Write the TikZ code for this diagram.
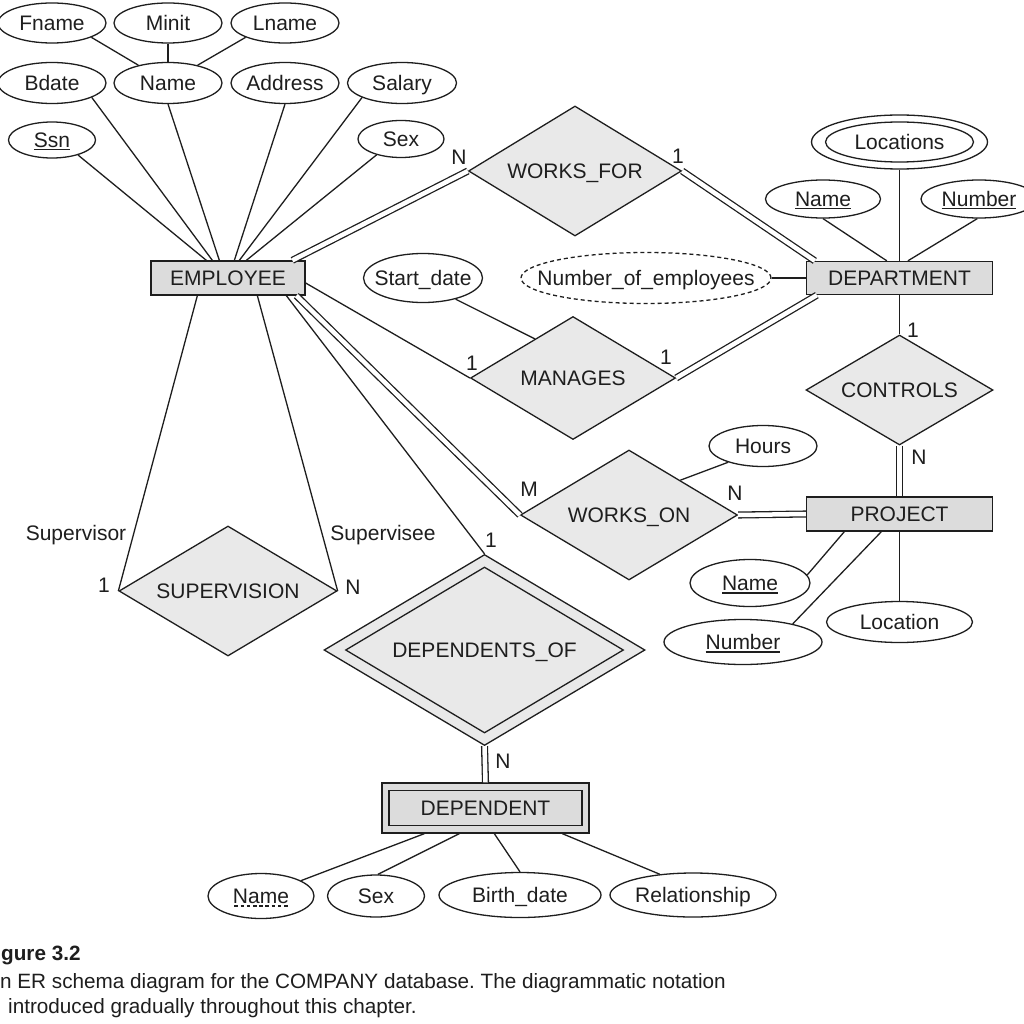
\documentclass[tikz,border=0pt]{standalone}
\usepackage{fontspec}
\setmainfont{Liberation Sans}
\frenchspacing
\usetikzlibrary{shapes.geometric,calc}
\newcommand\myul[1]{\setbox0\hbox{#1}\rlap{\rule[-3pt]{\wd0}{1.1pt}}\box0}
\newcommand\mydul[1]{\setbox0\hbox{#1}\rlap{\hbox to\wd0{\xleaders\hbox to 6pt{\hss\rule[-3pt]{3.5pt}{1.1pt}\hss}\hfil}}\box0}
\definecolor{entfill}{HTML}{DCDCDC}
\definecolor{relfill}{HTML}{E9E9E9}
\definecolor{ink}{HTML}{1E1E1E}
\tikzset{
  lbl/.style={text=ink, font=\fontsize{21}{25}\selectfont, text height=15pt, text depth=0pt},
  base/.style={lbl, draw=ink, line width=1.3pt, inner xsep=-60pt, inner ysep=-15pt},
  entity/.style={base, rectangle, fill=entfill, inner sep=0pt},
  attr/.style={base, ellipse, fill=white},
  rel/.style={base, diamond, fill=relfill, aspect=1.6},
  conn/.style={draw=ink, line width=1.3pt},
  dconn/.style={draw=ink, line width=1.3pt, double=white, double distance=4.5pt},
  card/.style={lbl, inner sep=0pt},
  capt/.style={text=ink, font=\fontsize{20.7}{24}\selectfont, inner sep=0pt, anchor=base west},
}
\begin{document}
\begin{tikzpicture}[x=1pt,y=-1pt]
\useasboundingbox (0,0) rectangle (1024,1024);
\fill[white] (0,0) rectangle (1024,1024);

% ---- entities
\node[entity, minimum width=154pt, minimum height=34pt] (emp) at (228,278) {EMPLOYEE};
\node[entity, minimum width=186pt, minimum height=33pt] (dept) at (899.5,278) {DEPARTMENT};
\node[entity, minimum width=186pt, minimum height=34pt] (proj) at (899.5,514) {PROJECT};
\node[entity, minimum width=207pt, minimum height=50pt] (depo) at (485.5,808) {};
\node[entity, minimum width=193pt, minimum height=35pt] (dep) at (485.5,808) {DEPENDENT};

% ---- relationships
\node[rel, minimum width=213pt, minimum height=130pt] (wf) at (575,171) {WORKS\_FOR};
\node[rel, minimum width=205pt, minimum height=123pt] (man) at (573,378) {MANAGES};
\node[rel, minimum width=187pt, minimum height=110pt] (ctl) at (899.5,390) {CONTROLS};
\node[rel, minimum width=217pt, minimum height=130pt] (won) at (629,515) {WORKS\_ON};
\node[rel, minimum width=218pt, minimum height=130pt] (sup) at (228,591) {SUPERVISION};
\node[rel, minimum width=321pt, minimum height=191pt] (dofo) at (484.5,650) {};
\node[rel, minimum width=278pt, minimum height=166pt] (dof) at (484.5,650) {DEPENDENTS\_OF};

% ---- attributes of EMPLOYEE
\node[attr, minimum width=108pt, minimum height=40pt] (fname) at (52,23) {Fname};
\node[attr, minimum width=108pt, minimum height=40pt] (minit) at (168,23) {Minit};
\node[attr, minimum width=108pt, minimum height=40pt] (lname) at (285,23) {Lname};
\node[attr, minimum width=108pt, minimum height=41pt] (bdate) at (52,83) {Bdate};
\node[attr, minimum width=108pt, minimum height=41pt] (ename) at (168,83) {Name};
\node[attr, minimum width=108pt, minimum height=41pt] (addr) at (285,83) {Address};
\node[attr, minimum width=109pt, minimum height=41pt] (salary) at (402,83) {Salary};
\node[attr, minimum width=87pt, minimum height=36pt] (ssn) at (52,140) {\myul{Ssn}};
\node[attr, minimum width=86pt, minimum height=37pt] (sex) at (401,139) {Sex};

% ---- other attributes
\node[attr, minimum width=119pt, minimum height=49pt] (sdate) at (423,278) {Start\_date};
\node[attr, dash pattern=on 4pt off 3pt, minimum width=250pt, minimum height=51pt] (noe) at (646,278) {Number\_of\_employees};
\node[attr, minimum width=176pt, minimum height=54pt] (loco) at (899.5,142) {};
\node[attr, minimum width=148pt, minimum height=40pt] (loc) at (899.5,142) {Locations};
\node[attr, minimum width=115pt, minimum height=38pt] (dname) at (823,199) {\myul{Name}};
\node[attr, minimum width=116pt, minimum height=38pt] (dnum) at (979,199) {\myul{Number}};
\node[attr, minimum width=108pt, minimum height=41pt] (hours) at (763,446) {Hours};
\node[attr, minimum width=120pt, minimum height=47pt] (pname) at (750,583) {\myul{Name}};
\node[attr, minimum width=158pt, minimum height=45pt] (pnum) at (743,642) {\myul{Number}};
\node[attr, minimum width=146pt, minimum height=41pt] (ploc) at (899.5,622) {Location};
\node[attr, minimum width=106pt, minimum height=45pt] (depname) at (261,896) {\mydul{Name}};
\node[attr, minimum width=97pt, minimum height=42pt] (depsex) at (376,896) {Sex};
\node[attr, minimum width=162pt, minimum height=45pt] (bdate2) at (520,895) {Birth\_date};
\node[attr, minimum width=166pt, minimum height=44pt] (relat) at (693,895) {Relationship};

% ---- connectors: composite name
\draw[conn] (fname.-20) -- (ename.149);
\draw[conn] (minit.south) -- (ename.north);
\draw[conn] (lname.200) -- (ename.31);

% ---- connectors: EMPLOYEE attributes
\draw[conn] (ssn.-30) -- ([xshift=56pt]emp.north west);
\draw[conn] (bdate.-20) -- ([xshift=62pt]emp.north west);
\draw[conn] (ename.south) -- ([xshift=69pt]emp.north west);
\draw[conn] (addr.south) -- ([xshift=84pt]emp.north west);
\draw[conn] (salary.200) -- ([xshift=89pt]emp.north west);
\draw[conn] (sex.213) -- ([xshift=96pt]emp.north west);

% ---- relationships
\draw[dconn] ([xshift=142pt]emp.north west) -- (wf.west);
\draw[dconn] (wf.east) -- ([xshift=9pt]dept.north west);
\draw[dconn] ([xshift=11pt]dept.south west) -- (man.east);
\draw[conn] ([yshift=-5pt]emp.east) -- (man.west);
\draw[conn] (sdate.-33) -- ($(man.north)!0.37!(man.west)$);
\draw[conn] (noe) -- (dept);
\draw[conn] (loco) -- (dept);
\draw[conn] (dname.south) -- ([xshift=81pt]dept.north west);
\draw[conn] (dnum.-95) -- ([xshift=102pt]dept.north west);
\draw[conn] (dept) -- (ctl);
\draw[dconn] (ctl.south) -- (proj.north);
\draw[dconn] (won.east) -- (proj.west);
\draw[conn] (hours.205) -- ($(won.north)!0.47!(won.east)$);
\draw[dconn] ([xshift=146pt]emp.south west) -- (won.west);
\draw[conn] ([xshift=136pt]emp.south west) -- (dofo.north);
\draw[conn] ([xshift=47pt]emp.south west) -- (sup.west);
\draw[conn] ([xshift=107pt]emp.south west) -- (sup.east);
\draw[dconn] (dofo.south) -- (depo.north);
\draw[conn] (pname.8) -- ([xshift=38.5pt]proj.south west);
\draw[conn] (pnum.20) -- ([xshift=75.5pt]proj.south west);
\draw[conn] (proj) -- (ploc);
\draw[conn] (depname.21) -- ([xshift=43pt]depo.south west);
\draw[conn] (depsex.85) -- ([xshift=78pt]depo.south west);
\draw[conn] (bdate2.north) -- ([xshift=113pt]depo.south west);
\draw[conn] (relat.148) -- ([xshift=181pt]depo.south west);

% ---- cardinalities and roles
\node[card] (c1) at (459,157) {N};
\node[card] (c2) at (678,156) {1};
\node[card] (c3) at (472,363) {1};
\node[card] (c4) at (666,357) {1};
\node[card] (c5) at (913,330) {1};
\node[card] (c6) at (919,457) {N};
\node[card] (c7) at (529,489) {M};
\node[card] (c8) at (735,493) {N};
\node[card] (c9) at (491,540) {1};
\node[card] (c10) at (503,761) {N};
\node[card] (c11) at (104,585) {1};
\node[card] (c12) at (353,587) {N};
\node[card] (r1) at (76,533) {Supervisor};
\node[card] (r2) at (383,533) {Supervisee};

% ---- caption
\node[capt, font=\fontsize{20.7}{24}\selectfont\bfseries] (fig) at (1,960) {gure 3.2};
\node[capt] (cap1) at (0,988) {n ER schema diagram for the COMPANY database. The diagrammatic notation};
\node[capt] (cap2) at (8,1013) {introduced gradually throughout this chapter.};
\end{tikzpicture}
\end{document}
